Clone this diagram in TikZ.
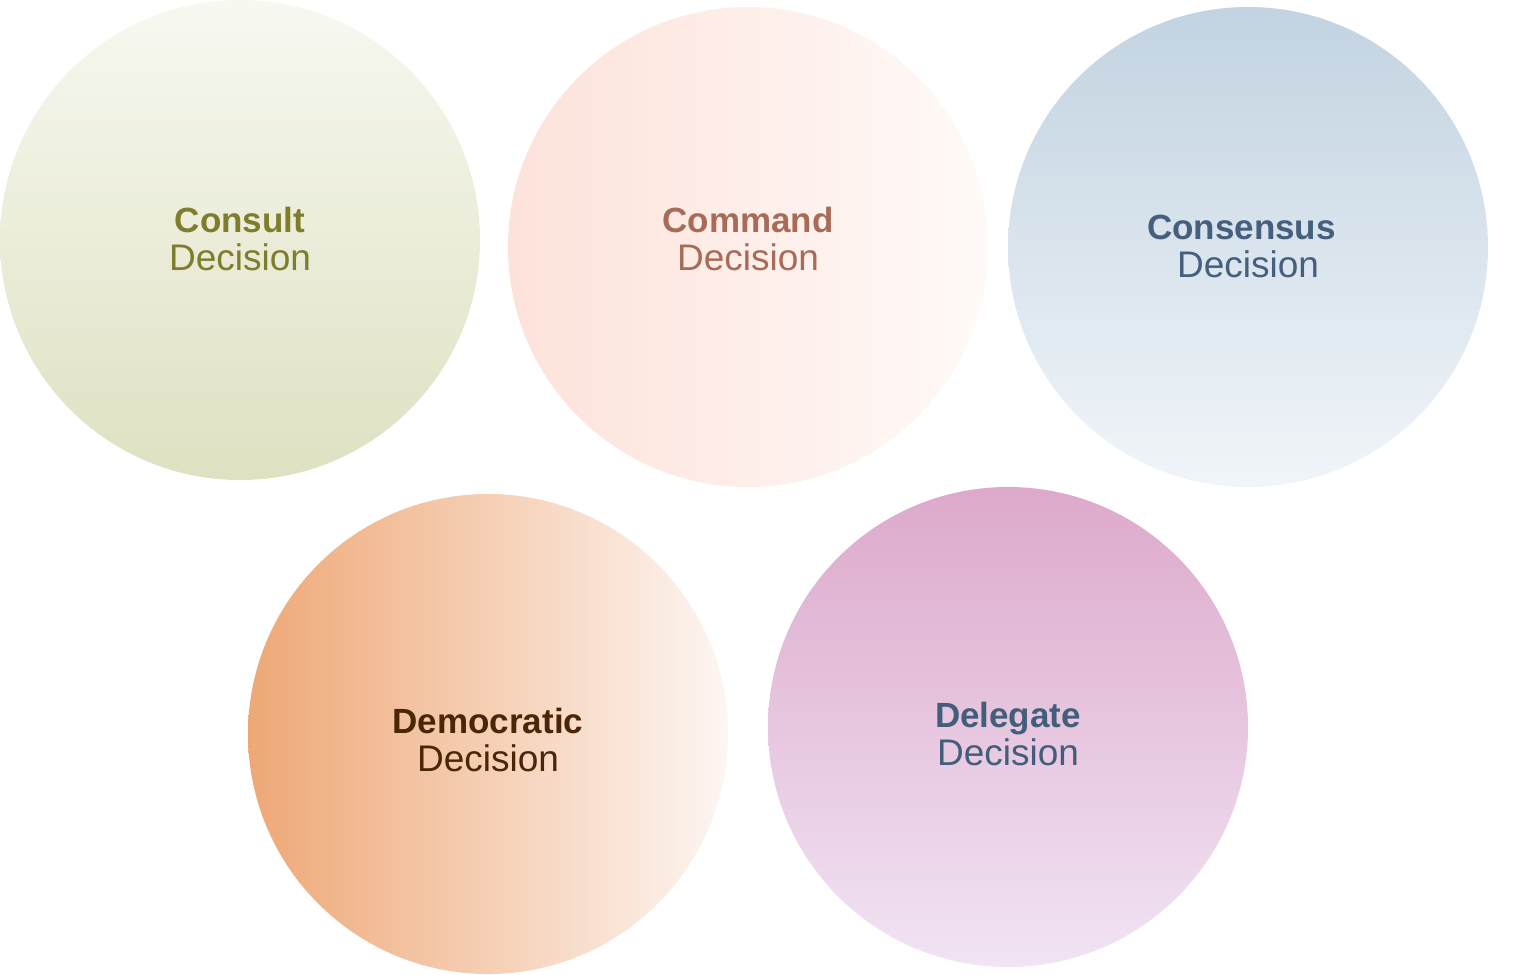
\documentclass[tikz,border=0pt]{standalone}
\usepackage{xcolor}
\usepackage{fontspec}
\setmainfont{Liberation Sans}
\usepackage{tikz}

\definecolor{consultTop}{HTML}{F7F8F0}
\definecolor{consultBot}{HTML}{DFE1C2}
\definecolor{commandL}{HTML}{FDE2DA}
\definecolor{commandR}{HTML}{FFFAF8}
\definecolor{consensusTop}{HTML}{C2D3E1}
\definecolor{consensusBot}{HTML}{F1F5F9}
\definecolor{democraticL}{HTML}{EEA876}
\definecolor{democraticR}{HTML}{FDF6F3}
\definecolor{delegateTop}{HTML}{DDA9CB}
\definecolor{delegateBot}{HTML}{F1E4F4}
\definecolor{consultText}{HTML}{7D7D2B}
\definecolor{commandText}{HTML}{A86B58}
\definecolor{consensusText}{HTML}{44607E}
\definecolor{democraticText}{HTML}{4A2506}
\definecolor{delegateText}{HTML}{435E7B}

\newcommand{\boldline}[1]{{\fontsize{35}{38}\selectfont\bfseries #1}}

\begin{document}
\begin{tikzpicture}[x=1pt, y=-1pt,
        disc/.style={circle, minimum size=480pt, inner sep=0pt},
        label/.style={align=center, inner sep=0pt, font=\fontsize{37}{38}\selectfont}
    ]
        \useasboundingbox (0,0) rectangle (1514,974);

        % Top row
        \node[disc, top color=consultTop, bottom color=consultBot] (consult) at (240,240) {};
        \node[disc, left color=commandL, right color=commandR] (command) at (748,247) {};
        \node[disc, top color=consensusTop, bottom color=consensusBot] (consensus) at (1248,247) {};

        % Bottom row
        \node[disc, left color=democraticL, right color=democraticR] (democratic) at (488,734) {};
        \node[disc, top color=delegateTop, bottom color=delegateBot] (delegate) at (1008,727) {};

        % Labels
        \node[label, text=consultText] (consultlbl) at (240,238.5) {\boldline{Consult}\\Decision};
        \node[label, text=commandText] (commandlbl) at (748,239) {\boldline{Command}\\Decision};
        \node[label, text=consensusText] (consensuslbl) at (1248,246) {\boldline{Consensus}\hspace*{13pt}\\Decision};
        \node[label, text=democraticText] (democraticlbl) at (488,739.5) {\boldline{Democratic}\\Decision};
        \node[label, text=delegateText] (delegatelbl) at (1008,733.5) {\boldline{Delegate}\\Decision};
    \end{tikzpicture}
\end{document}
